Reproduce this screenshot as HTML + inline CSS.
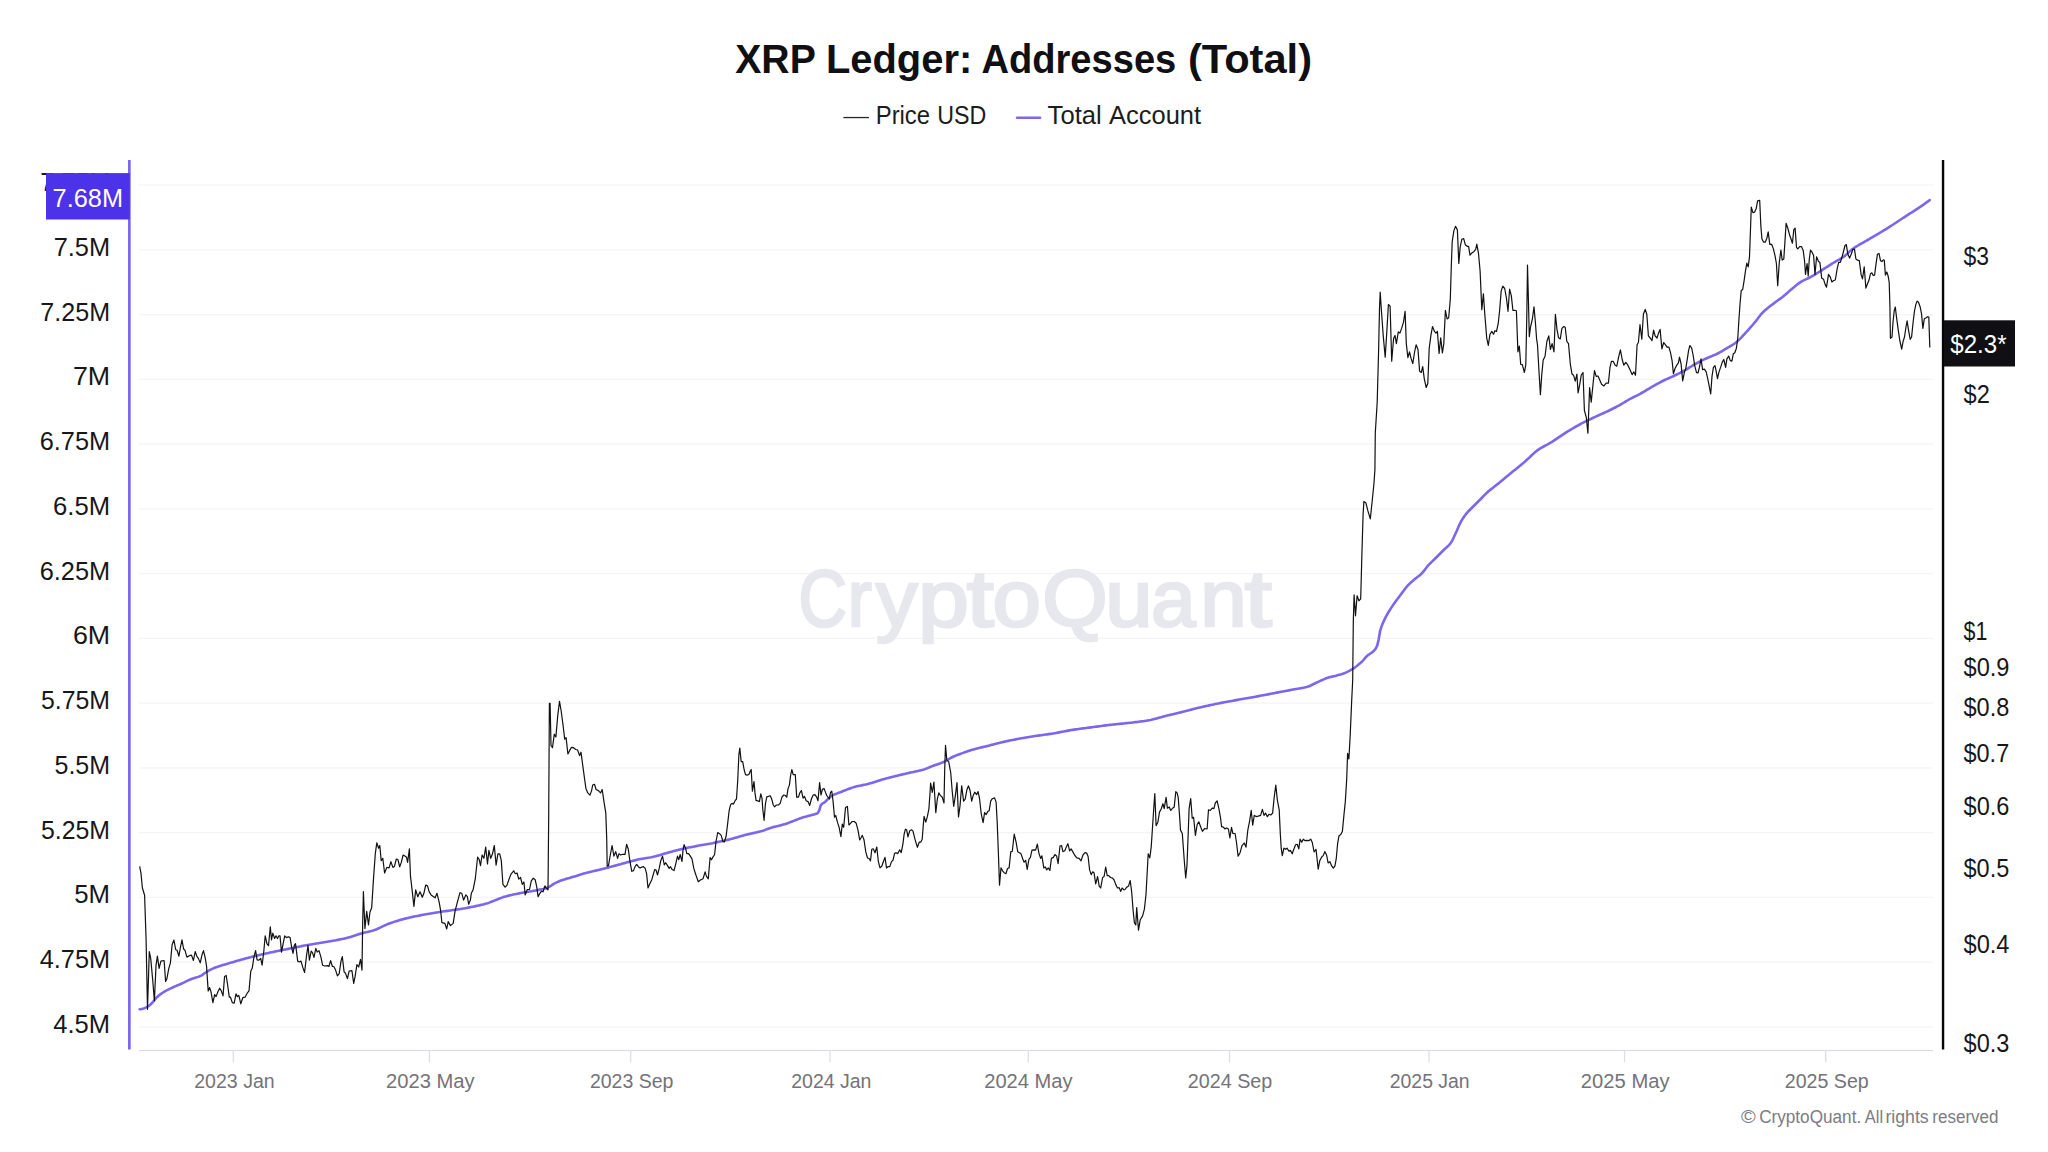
<!DOCTYPE html>
<html lang="en"><head><meta charset="utf-8"><title>XRP Ledger: Addresses (Total)</title>
<style>
html,body{margin:0;padding:0;background:#fff;}
body{width:2048px;height:1152px;overflow:hidden;font-family:"Liberation Sans", "DejaVu Sans", sans-serif;}
svg{display:block;}
text{font-family:"Liberation Sans", "DejaVu Sans", sans-serif;}
</style></head><body>
<svg width="2048" height="1152" viewBox="0 0 2048 1152">
<rect width="2048" height="1152" fill="#ffffff"/>

<g id="title">
<text y="73.1" font-size="41" font-weight="700" fill="#101014"><tspan x="735.26" textLength="79.82" lengthAdjust="spacingAndGlyphs">XRP</tspan> <tspan x="825.93" textLength="146.31" lengthAdjust="spacingAndGlyphs">Ledger:</tspan> <tspan x="981.55" textLength="194.71" lengthAdjust="spacingAndGlyphs">Addresses</tspan> <tspan x="1187.93" textLength="124.15" lengthAdjust="spacingAndGlyphs">(Total)</tspan></text>
</g>
<g id="legend">
<line x1="843.4" y1="117.55" x2="868.9" y2="117.55" stroke="#26262a" stroke-width="1.3"/>
<line x1="1017.1" y1="117.7" x2="1040.1" y2="117.7" stroke="#7b68ee" stroke-width="2.6" stroke-linecap="round"/>
<text y="124.3" font-size="25.6" font-weight="400" fill="#1c1c20"><tspan x="875.74" textLength="54.32" lengthAdjust="spacingAndGlyphs">Price</tspan> <tspan x="937.21" textLength="49.11" lengthAdjust="spacingAndGlyphs">USD</tspan></text>
<text y="124.3" font-size="25.6" font-weight="400" fill="#1c1c20"><tspan x="1047.62" textLength="54.09" lengthAdjust="spacingAndGlyphs">Total</tspan> <tspan x="1109.05" textLength="92.04" lengthAdjust="spacingAndGlyphs">Account</tspan></text>
</g>
<g id="grid">
<line x1="139" y1="1026.8" x2="1933" y2="1026.8" stroke="#f4f4f6" stroke-width="1.2"/>
<line x1="139" y1="962.1" x2="1933" y2="962.1" stroke="#f4f4f6" stroke-width="1.2"/>
<line x1="139" y1="897.3" x2="1933" y2="897.3" stroke="#f4f4f6" stroke-width="1.2"/>
<line x1="139" y1="832.6" x2="1933" y2="832.6" stroke="#f4f4f6" stroke-width="1.2"/>
<line x1="139" y1="767.8" x2="1933" y2="767.8" stroke="#f4f4f6" stroke-width="1.2"/>
<line x1="139" y1="703.1" x2="1933" y2="703.1" stroke="#f4f4f6" stroke-width="1.2"/>
<line x1="139" y1="638.3" x2="1933" y2="638.3" stroke="#f4f4f6" stroke-width="1.2"/>
<line x1="139" y1="573.6" x2="1933" y2="573.6" stroke="#f4f4f6" stroke-width="1.2"/>
<line x1="139" y1="508.8" x2="1933" y2="508.8" stroke="#f4f4f6" stroke-width="1.2"/>
<line x1="139" y1="444.1" x2="1933" y2="444.1" stroke="#f4f4f6" stroke-width="1.2"/>
<line x1="139" y1="379.3" x2="1933" y2="379.3" stroke="#f4f4f6" stroke-width="1.2"/>
<line x1="139" y1="314.6" x2="1933" y2="314.6" stroke="#f4f4f6" stroke-width="1.2"/>
<line x1="139" y1="249.8" x2="1933" y2="249.8" stroke="#f4f4f6" stroke-width="1.2"/>
<line x1="139" y1="185.1" x2="1933" y2="185.1" stroke="#f4f4f6" stroke-width="1.2"/>
</g>
<g id="watermark">
<text y="625.6" font-size="80.5" fill="#e7e7ee" stroke="#e7e7ee" stroke-width="2.6"><tspan x="798.5" textLength="48.35" lengthAdjust="spacingAndGlyphs">C</tspan><tspan x="847.76" textLength="24.04" lengthAdjust="spacingAndGlyphs">r</tspan><tspan x="876.1" textLength="41.51" lengthAdjust="spacingAndGlyphs">y</tspan><tspan x="917.9" textLength="50.89" lengthAdjust="spacingAndGlyphs">p</tspan><tspan x="966.72" textLength="27.09" lengthAdjust="spacingAndGlyphs">t</tspan><tspan x="992.64" textLength="48.47" lengthAdjust="spacingAndGlyphs">o</tspan><tspan x="1042.32" textLength="65.41" lengthAdjust="spacingAndGlyphs">Q</tspan><tspan x="1105.18" textLength="47.26" lengthAdjust="spacingAndGlyphs">u</tspan><tspan x="1150.99" textLength="44.61" lengthAdjust="spacingAndGlyphs">a</tspan><tspan x="1200.15" textLength="46.47" lengthAdjust="spacingAndGlyphs">n</tspan><tspan x="1244.82" textLength="27.09" lengthAdjust="spacingAndGlyphs">t</tspan></text>
</g>
<g id="yleft">
<text x="53.31" y="1032.8" font-size="25.6" font-weight="400" fill="#17171a" textLength="56.78" lengthAdjust="spacingAndGlyphs">4.5M</text>
<text x="39.72" y="968.1" font-size="25.6" font-weight="400" fill="#17171a" textLength="70.36" lengthAdjust="spacingAndGlyphs">4.75M</text>
<text x="74.27" y="903.3" font-size="25.6" font-weight="400" fill="#17171a" textLength="35.85" lengthAdjust="spacingAndGlyphs">5M</text>
<text x="41.01" y="838.6" font-size="25.6" font-weight="400" fill="#17171a" textLength="69.03" lengthAdjust="spacingAndGlyphs">5.25M</text>
<text x="54.5" y="773.8" font-size="25.6" font-weight="400" fill="#17171a" textLength="55.55" lengthAdjust="spacingAndGlyphs">5.5M</text>
<text x="41.01" y="709.1" font-size="25.6" font-weight="400" fill="#17171a" textLength="69.03" lengthAdjust="spacingAndGlyphs">5.75M</text>
<text x="72.94" y="644.3" font-size="25.6" font-weight="400" fill="#17171a" textLength="37.26" lengthAdjust="spacingAndGlyphs">6M</text>
<text x="39.71" y="579.6" font-size="25.6" font-weight="400" fill="#17171a" textLength="70.36" lengthAdjust="spacingAndGlyphs">6.25M</text>
<text x="53.1" y="514.8" font-size="25.6" font-weight="400" fill="#17171a" textLength="57.01" lengthAdjust="spacingAndGlyphs">6.5M</text>
<text x="39.71" y="450.1" font-size="25.6" font-weight="400" fill="#17171a" textLength="70.36" lengthAdjust="spacingAndGlyphs">6.75M</text>
<text x="72.92" y="385.3" font-size="25.6" font-weight="400" fill="#17171a" textLength="37.28" lengthAdjust="spacingAndGlyphs">7M</text>
<text x="40.31" y="320.6" font-size="25.6" font-weight="400" fill="#17171a" textLength="69.75" lengthAdjust="spacingAndGlyphs">7.25M</text>
<text x="53.7" y="255.8" font-size="25.6" font-weight="400" fill="#17171a" textLength="56.38" lengthAdjust="spacingAndGlyphs">7.5M</text>
<text x="40.31" y="191.1" font-size="25.6" font-weight="400" fill="#17171a" textLength="69.75" lengthAdjust="spacingAndGlyphs">7.75M</text>
</g>
<g id="xaxis">
<line x1="139" y1="1050.45" x2="1933" y2="1050.45" stroke="#d9d9e6" stroke-width="1.1"/>
<line x1="233.3" y1="1050" x2="233.3" y2="1062.3" stroke="#dcdce8" stroke-width="1.2"/>
<line x1="429.4" y1="1050" x2="429.4" y2="1062.3" stroke="#dcdce8" stroke-width="1.2"/>
<line x1="630.7" y1="1050" x2="630.7" y2="1062.3" stroke="#dcdce8" stroke-width="1.2"/>
<line x1="830.0" y1="1050" x2="830.0" y2="1062.3" stroke="#dcdce8" stroke-width="1.2"/>
<line x1="1028.3" y1="1050" x2="1028.3" y2="1062.3" stroke="#dcdce8" stroke-width="1.2"/>
<line x1="1229.5" y1="1050" x2="1229.5" y2="1062.3" stroke="#dcdce8" stroke-width="1.2"/>
<line x1="1429.0" y1="1050" x2="1429.0" y2="1062.3" stroke="#dcdce8" stroke-width="1.2"/>
<line x1="1624.5" y1="1050" x2="1624.5" y2="1062.3" stroke="#dcdce8" stroke-width="1.2"/>
<line x1="1825.7" y1="1050" x2="1825.7" y2="1062.3" stroke="#dcdce8" stroke-width="1.2"/>
<text x="194.22" y="1088.0" font-size="19.9" font-weight="400" fill="#737379" textLength="80.45" lengthAdjust="spacingAndGlyphs">2023 Jan</text>
<text x="385.98" y="1088.0" font-size="19.9" font-weight="400" fill="#737379" textLength="88.66" lengthAdjust="spacingAndGlyphs">2023 May</text>
<text x="589.92" y="1088.0" font-size="19.9" font-weight="400" fill="#737379" textLength="83.5" lengthAdjust="spacingAndGlyphs">2023 Sep</text>
<text x="791.22" y="1088.0" font-size="19.9" font-weight="400" fill="#737379" textLength="80.15" lengthAdjust="spacingAndGlyphs">2024 Jan</text>
<text x="984.19" y="1088.0" font-size="19.9" font-weight="400" fill="#737379" textLength="88.35" lengthAdjust="spacingAndGlyphs">2024 May</text>
<text x="1187.81" y="1088.0" font-size="19.9" font-weight="400" fill="#737379" textLength="84.42" lengthAdjust="spacingAndGlyphs">2024 Sep</text>
<text x="1389.72" y="1088.0" font-size="19.9" font-weight="400" fill="#737379" textLength="79.94" lengthAdjust="spacingAndGlyphs">2025 Jan</text>
<text x="1580.88" y="1088.0" font-size="19.9" font-weight="400" fill="#737379" textLength="88.66" lengthAdjust="spacingAndGlyphs">2025 May</text>
<text x="1784.81" y="1088.0" font-size="19.9" font-weight="400" fill="#737379" textLength="83.91" lengthAdjust="spacingAndGlyphs">2025 Sep</text>
</g>
<g id="series">
<path d="M139.7,1009.3 L141.2,1009.13 L142.7,1008.77 L144.2,1008.26 L145.7,1007.66 L147.2,1006.94 L148.7,1005.91 L150.2,1004.66 L151.7,1003.31 L153.2,1001.64 L154.7,999.72 L156.2,997.91 L157.7,996.48 L159.2,995.22 L160.7,994.07 L162.2,993.01 L163.7,992.04 L165.2,991.16 L166.7,990.35 L168.2,989.59 L169.7,988.87 L171.2,988.18 L172.7,987.49 L174.2,986.79 L175.7,986.13 L177.2,985.48 L178.7,984.83 L180.2,984.19 L181.7,983.52 L183.2,982.84 L184.7,982.11 L186.2,981.37 L187.7,980.64 L189.2,979.94 L190.7,979.3 L192.2,978.73 L193.7,978.25 L195.2,977.81 L196.7,977.37 L198.2,976.88 L199.7,976.32 L201.2,975.59 L202.7,974.64 L204.2,973.56 L205.7,972.48 L207.2,971.51 L208.7,970.68 L210.2,969.88 L211.7,969.13 L213.2,968.43 L214.7,967.8 L216.2,967.23 L217.7,966.71 L219.2,966.22 L220.7,965.76 L222.2,965.31 L223.7,964.87 L225.2,964.43 L226.7,963.98 L228.2,963.52 L229.7,963.06 L231.2,962.61 L232.7,962.16 L234.2,961.71 L235.7,961.27 L237.2,960.84 L238.7,960.42 L240.2,959.99 L241.7,959.57 L243.2,959.15 L244.7,958.74 L246.2,958.33 L247.7,957.93 L249.2,957.53 L250.7,957.14 L252.2,956.75 L253.7,956.37 L255.2,956 L256.7,955.64 L258.2,955.28 L259.7,954.93 L261.2,954.58 L262.7,954.24 L264.2,953.9 L265.7,953.56 L267.2,953.23 L268.7,952.9 L270.2,952.58 L271.7,952.25 L273.2,951.93 L274.7,951.61 L276.2,951.3 L277.7,950.98 L279.2,950.68 L280.7,950.37 L282.2,950.07 L283.7,949.77 L285.2,949.47 L286.7,949.16 L288.2,948.86 L289.7,948.56 L291.2,948.26 L292.7,947.95 L294.2,947.64 L295.7,947.33 L297.2,947.02 L298.7,946.72 L300.2,946.41 L301.7,946.11 L303.2,945.81 L304.7,945.51 L306.2,945.23 L307.7,944.95 L309.2,944.67 L310.7,944.41 L312.2,944.16 L313.7,943.91 L315.2,943.66 L316.7,943.42 L318.2,943.18 L319.7,942.94 L321.2,942.7 L322.7,942.46 L324.2,942.21 L325.7,941.96 L327.2,941.7 L328.7,941.44 L330.2,941.19 L331.7,940.93 L333.2,940.68 L334.7,940.43 L336.2,940.16 L337.7,939.89 L339.2,939.62 L340.7,939.33 L342.2,939.02 L343.7,938.7 L345.2,938.36 L346.7,937.98 L348.2,937.57 L349.7,937.14 L351.2,936.68 L352.7,936.2 L354.2,935.72 L355.7,935.23 L357.2,934.75 L358.7,934.27 L360.2,933.81 L361.7,933.38 L363.2,932.97 L364.7,932.59 L366.2,932.24 L367.7,931.9 L369.2,931.56 L370.7,931.19 L372.2,930.79 L373.7,930.34 L375.2,929.8 L376.7,929.19 L378.2,928.52 L379.7,927.81 L381.2,927.08 L382.7,926.35 L384.2,925.63 L385.7,924.96 L387.2,924.34 L388.7,923.77 L390.2,923.21 L391.7,922.66 L393.2,922.13 L394.7,921.63 L396.2,921.14 L397.7,920.67 L399.2,920.22 L400.7,919.8 L402.2,919.39 L403.7,919 L405.2,918.62 L406.7,918.25 L408.2,917.89 L409.7,917.55 L411.2,917.21 L412.7,916.88 L414.2,916.56 L415.7,916.26 L417.2,915.96 L418.7,915.66 L420.2,915.37 L421.7,915.09 L423.2,914.81 L424.7,914.53 L426.2,914.27 L427.7,914 L429.2,913.74 L430.7,913.49 L432.2,913.23 L433.7,912.98 L435.2,912.74 L436.7,912.49 L438.2,912.25 L439.7,912.01 L441.2,911.78 L442.7,911.55 L444.2,911.33 L445.7,911.11 L447.2,910.9 L448.7,910.69 L450.2,910.48 L451.7,910.28 L453.2,910.06 L454.7,909.84 L456.2,909.62 L457.7,909.39 L459.2,909.17 L460.7,908.93 L462.2,908.69 L463.7,908.45 L465.2,908.19 L466.7,907.93 L468.2,907.65 L469.7,907.36 L471.2,907.06 L472.7,906.76 L474.2,906.44 L475.7,906.12 L477.2,905.79 L478.7,905.46 L480.2,905.12 L481.7,904.78 L483.2,904.42 L484.7,904.03 L486.2,903.62 L487.7,903.15 L489.2,902.62 L490.7,902.05 L492.2,901.45 L493.7,900.84 L495.2,900.25 L496.7,899.68 L498.2,899.08 L499.7,898.48 L501.2,897.9 L502.7,897.35 L504.2,896.85 L505.7,896.41 L507.2,896.01 L508.7,895.63 L510.2,895.27 L511.7,894.92 L513.2,894.59 L514.7,894.27 L516.2,893.96 L517.7,893.65 L519.2,893.36 L520.7,893.08 L522.2,892.8 L523.7,892.53 L525.2,892.27 L526.7,892 L528.2,891.73 L529.7,891.46 L531.2,891.2 L532.7,890.95 L534.2,890.69 L535.7,890.43 L537.2,890.16 L538.7,889.86 L540.2,889.56 L541.7,889.26 L543.2,888.94 L544.7,888.58 L546.2,888.16 L547.7,887.66 L549.2,886.93 L550.7,885.96 L552.2,884.91 L553.7,883.94 L555.2,883.14 L556.7,882.39 L558.2,881.69 L559.7,881.05 L561.2,880.46 L562.7,879.94 L564.2,879.46 L565.7,879.01 L567.2,878.58 L568.7,878.16 L570.2,877.74 L571.7,877.31 L573.2,876.86 L574.7,876.39 L576.2,875.92 L577.7,875.45 L579.2,874.98 L580.7,874.51 L582.2,874.06 L583.7,873.62 L585.2,873.19 L586.7,872.79 L588.2,872.4 L589.7,872.03 L591.2,871.67 L592.7,871.32 L594.2,870.97 L595.7,870.63 L597.2,870.28 L598.7,869.93 L600.2,869.57 L601.7,869.2 L603.2,868.82 L604.7,868.43 L606.2,868.04 L607.7,867.64 L609.2,867.24 L610.7,866.84 L612.2,866.43 L613.7,866.03 L615.2,865.63 L616.7,865.22 L618.2,864.82 L619.7,864.4 L621.2,863.99 L622.7,863.58 L624.2,863.16 L625.7,862.75 L627.2,862.35 L628.7,861.94 L630.2,861.55 L631.7,861.16 L633.2,860.77 L634.7,860.38 L636.2,859.99 L637.7,859.61 L639.2,859.26 L640.7,858.94 L642.2,858.66 L643.7,858.43 L645.2,858.22 L646.7,858.02 L648.2,857.8 L649.7,857.55 L651.2,857.26 L652.7,856.93 L654.2,856.58 L655.7,856.19 L657.2,855.8 L658.7,855.4 L660.2,854.98 L661.7,854.53 L663.2,854.07 L664.7,853.6 L666.2,853.15 L667.7,852.72 L669.2,852.3 L670.7,851.9 L672.2,851.5 L673.7,851.11 L675.2,850.73 L676.7,850.35 L678.2,849.97 L679.7,849.59 L681.2,849.21 L682.7,848.85 L684.2,848.51 L685.7,848.19 L687.2,847.88 L688.7,847.59 L690.2,847.31 L691.7,847.03 L693.2,846.74 L694.7,846.44 L696.2,846.14 L697.7,845.84 L699.2,845.54 L700.7,845.25 L702.2,844.98 L703.7,844.73 L705.2,844.5 L706.7,844.28 L708.2,844.05 L709.7,843.8 L711.2,843.52 L712.7,843.19 L714.2,842.82 L715.7,842.47 L717.2,842.14 L718.7,841.84 L720.2,841.54 L721.7,841.24 L723.2,840.93 L724.7,840.6 L726.2,840.25 L727.7,839.88 L729.2,839.49 L730.7,839.1 L732.2,838.7 L733.7,838.29 L735.2,837.87 L736.7,837.43 L738.2,836.99 L739.7,836.54 L741.2,836.09 L742.7,835.66 L744.2,835.24 L745.7,834.85 L747.2,834.48 L748.7,834.13 L750.2,833.8 L751.7,833.47 L753.2,833.13 L754.7,832.79 L756.2,832.43 L757.7,832.06 L759.2,831.68 L760.7,831.29 L762.2,830.88 L763.7,830.42 L765.2,829.89 L766.7,829.32 L768.2,828.74 L769.7,828.19 L771.2,827.69 L772.7,827.26 L774.2,826.87 L775.7,826.51 L777.2,826.15 L778.7,825.79 L780.2,825.4 L781.7,824.99 L783.2,824.58 L784.7,824.15 L786.2,823.69 L787.7,823.2 L789.2,822.64 L790.7,822.05 L792.2,821.44 L793.7,820.85 L795.2,820.28 L796.7,819.7 L798.2,819.13 L799.7,818.57 L801.2,818.03 L802.7,817.53 L804.2,817.07 L805.7,816.65 L807.2,816.25 L808.7,815.85 L810.2,815.44 L811.7,815.01 L813.2,814.66 L814.7,814.32 L816.2,813.84 L817.7,813.05 L819.2,810.52 L820.7,805.31 L822.2,803.67 L823.7,802.92 L825.2,801.78 L826.7,800.2 L828.2,798.73 L829.7,797.41 L831.2,796.21 L832.7,795.28 L834.2,794.55 L835.7,793.92 L837.2,793.36 L838.7,792.82 L840.2,792.27 L841.7,791.68 L843.2,791.08 L844.7,790.48 L846.2,789.89 L847.7,789.31 L849.2,788.75 L850.7,788.19 L852.2,787.64 L853.7,787.13 L855.2,786.69 L856.7,786.32 L858.2,785.99 L859.7,785.69 L861.2,785.41 L862.7,785.12 L864.2,784.83 L865.7,784.51 L867.2,784.15 L868.7,783.76 L870.2,783.33 L871.7,782.88 L873.2,782.41 L874.7,781.93 L876.2,781.45 L877.7,780.96 L879.2,780.48 L880.7,780.02 L882.2,779.57 L883.7,779.15 L885.2,778.74 L886.7,778.35 L888.2,777.96 L889.7,777.59 L891.2,777.22 L892.7,776.84 L894.2,776.47 L895.7,776.1 L897.2,775.73 L898.7,775.35 L900.2,774.98 L901.7,774.62 L903.2,774.25 L904.7,773.9 L906.2,773.55 L907.7,773.21 L909.2,772.87 L910.7,772.55 L912.2,772.23 L913.7,771.91 L915.2,771.59 L916.7,771.25 L918.2,770.91 L919.7,770.57 L921.2,770.21 L922.7,769.83 L924.2,769.38 L925.7,768.85 L927.2,768.26 L928.7,767.63 L930.2,766.99 L931.7,766.36 L933.2,765.76 L934.7,765.21 L936.2,764.69 L937.7,764.18 L939.2,763.67 L940.7,763.13 L942.2,762.57 L943.7,761.95 L945.2,761.26 L946.7,760.43 L948.2,759.51 L949.7,758.58 L951.2,757.71 L952.7,756.97 L954.2,756.3 L955.7,755.67 L957.2,755.07 L958.7,754.5 L960.2,753.95 L961.7,753.4 L963.2,752.86 L964.7,752.33 L966.2,751.81 L967.7,751.3 L969.2,750.8 L970.7,750.32 L972.2,749.85 L973.7,749.4 L975.2,748.97 L976.7,748.57 L978.2,748.18 L979.7,747.82 L981.2,747.46 L982.7,747.11 L984.2,746.76 L985.7,746.4 L987.2,746.02 L988.7,745.64 L990.2,745.25 L991.7,744.86 L993.2,744.46 L994.7,744.07 L996.2,743.68 L997.7,743.29 L999.2,742.92 L1000.7,742.56 L1002.2,742.21 L1003.7,741.87 L1005.2,741.53 L1006.7,741.2 L1008.2,740.88 L1009.7,740.57 L1011.2,740.26 L1012.7,739.95 L1014.2,739.66 L1015.7,739.36 L1017.2,739.08 L1018.7,738.8 L1020.2,738.53 L1021.7,738.27 L1023.2,738.01 L1024.7,737.75 L1026.2,737.5 L1027.7,737.25 L1029.2,737.01 L1030.7,736.77 L1032.2,736.53 L1033.7,736.29 L1035.2,736.06 L1036.7,735.83 L1038.2,735.61 L1039.7,735.4 L1041.2,735.19 L1042.7,734.98 L1044.2,734.77 L1045.7,734.56 L1047.2,734.34 L1048.7,734.12 L1050.2,733.9 L1051.7,733.67 L1053.2,733.43 L1054.7,733.18 L1056.2,732.92 L1057.7,732.64 L1059.2,732.36 L1060.7,732.07 L1062.2,731.77 L1063.7,731.48 L1065.2,731.19 L1066.7,730.9 L1068.2,730.62 L1069.7,730.35 L1071.2,730.09 L1072.7,729.85 L1074.2,729.62 L1075.7,729.4 L1077.2,729.19 L1078.7,728.98 L1080.2,728.78 L1081.7,728.58 L1083.2,728.38 L1084.7,728.19 L1086.2,727.99 L1087.7,727.8 L1089.2,727.6 L1090.7,727.41 L1092.2,727.21 L1093.7,727 L1095.2,726.8 L1096.7,726.6 L1098.2,726.39 L1099.7,726.19 L1101.2,725.99 L1102.7,725.79 L1104.2,725.59 L1105.7,725.4 L1107.2,725.21 L1108.7,725.03 L1110.2,724.85 L1111.7,724.67 L1113.2,724.51 L1114.7,724.35 L1116.2,724.19 L1117.7,724.04 L1119.2,723.89 L1120.7,723.74 L1122.2,723.6 L1123.7,723.45 L1125.2,723.3 L1126.7,723.15 L1128.2,722.99 L1129.7,722.83 L1131.2,722.67 L1132.7,722.5 L1134.2,722.32 L1135.7,722.14 L1137.2,721.95 L1138.7,721.77 L1140.2,721.58 L1141.7,721.38 L1143.2,721.17 L1144.7,720.96 L1146.2,720.72 L1147.7,720.48 L1149.2,720.22 L1150.7,719.93 L1152.2,719.59 L1153.7,719.23 L1155.2,718.84 L1156.7,718.42 L1158.2,718 L1159.7,717.57 L1161.2,717.15 L1162.7,716.73 L1164.2,716.33 L1165.7,715.95 L1167.2,715.58 L1168.7,715.22 L1170.2,714.87 L1171.7,714.52 L1173.2,714.16 L1174.7,713.81 L1176.2,713.46 L1177.7,713.1 L1179.2,712.74 L1180.7,712.37 L1182.2,712 L1183.7,711.61 L1185.2,711.22 L1186.7,710.82 L1188.2,710.42 L1189.7,710.02 L1191.2,709.62 L1192.7,709.23 L1194.2,708.84 L1195.7,708.47 L1197.2,708.1 L1198.7,707.75 L1200.2,707.39 L1201.7,707.05 L1203.2,706.7 L1204.7,706.36 L1206.2,706.02 L1207.7,705.69 L1209.2,705.36 L1210.7,705.04 L1212.2,704.72 L1213.7,704.4 L1215.2,704.09 L1216.7,703.78 L1218.2,703.48 L1219.7,703.18 L1221.2,702.89 L1222.7,702.6 L1224.2,702.32 L1225.7,702.03 L1227.2,701.76 L1228.7,701.48 L1230.2,701.21 L1231.7,700.93 L1233.2,700.66 L1234.7,700.39 L1236.2,700.12 L1237.7,699.85 L1239.2,699.57 L1240.7,699.31 L1242.2,699.04 L1243.7,698.78 L1245.2,698.52 L1246.7,698.25 L1248.2,697.99 L1249.7,697.73 L1251.2,697.47 L1252.7,697.2 L1254.2,696.94 L1255.7,696.67 L1257.2,696.39 L1258.7,696.11 L1260.2,695.83 L1261.7,695.55 L1263.2,695.26 L1264.7,694.97 L1266.2,694.68 L1267.7,694.39 L1269.2,694.1 L1270.7,693.81 L1272.2,693.52 L1273.7,693.23 L1275.2,692.94 L1276.7,692.65 L1278.2,692.36 L1279.7,692.08 L1281.2,691.8 L1282.7,691.52 L1284.2,691.23 L1285.7,690.96 L1287.2,690.68 L1288.7,690.4 L1290.2,690.12 L1291.7,689.83 L1293.2,689.55 L1294.7,689.27 L1296.2,688.98 L1297.7,688.71 L1299.2,688.45 L1300.7,688.2 L1302.2,687.94 L1303.7,687.66 L1305.2,687.35 L1306.7,686.99 L1308.2,686.55 L1309.7,685.97 L1311.2,685.28 L1312.7,684.53 L1314.2,683.76 L1315.7,683.02 L1317.2,682.34 L1318.7,681.65 L1320.2,680.94 L1321.7,680.24 L1323.2,679.56 L1324.7,678.91 L1326.2,678.32 L1327.7,677.8 L1329.2,677.35 L1330.7,676.97 L1332.2,676.62 L1333.7,676.27 L1335.2,675.91 L1336.7,675.51 L1338.2,675.1 L1339.7,674.69 L1341.2,674.25 L1342.7,673.76 L1344.2,673.22 L1345.7,672.61 L1347.2,671.92 L1348.7,671.17 L1350.2,670.35 L1351.7,669.48 L1353.2,668.55 L1354.7,667.55 L1356.2,666.47 L1357.7,665.32 L1359.2,664.09 L1360.7,662.79 L1362.2,661.41 L1363.7,659.75 L1365.2,657.95 L1366.7,656.29 L1368.2,655 L1369.7,653.96 L1371.2,652.98 L1372.7,651.88 L1374.2,650.5 L1375.7,648.61 L1377.2,645.65 L1378.7,639.33 L1380.2,630.57 L1381.7,625.91 L1383.2,622.33 L1384.7,619.1 L1386.2,616.17 L1387.7,613.5 L1389.2,611.01 L1390.7,608.65 L1392.2,606.34 L1393.7,604.13 L1395.2,602.04 L1396.7,600.03 L1398.2,598.05 L1399.7,596.07 L1401.2,594.04 L1402.7,591.98 L1404.2,589.94 L1405.7,587.99 L1407.2,586.18 L1408.7,584.56 L1410.2,583.09 L1411.7,581.72 L1413.2,580.41 L1414.7,579.13 L1416.2,577.95 L1417.7,576.83 L1419.2,575.69 L1420.7,574.43 L1422.2,572.99 L1423.7,571.2 L1425.2,569.2 L1426.7,567.22 L1428.2,565.46 L1429.7,563.87 L1431.2,562.37 L1432.7,560.91 L1434.2,559.47 L1435.7,558 L1437.2,556.5 L1438.7,555 L1440.2,553.5 L1441.7,552 L1443.2,550.5 L1444.7,549.04 L1446.2,547.69 L1447.7,546.34 L1449.2,544.84 L1450.7,543.03 L1452.2,540.59 L1453.7,537.5 L1455.2,534.18 L1456.7,530.93 L1458.2,527.45 L1459.7,524.07 L1461.2,521.19 L1462.7,518.69 L1464.2,516.44 L1465.7,514.43 L1467.2,512.62 L1468.7,510.99 L1470.2,509.47 L1471.7,507.99 L1473.2,506.51 L1474.7,504.98 L1476.2,503.47 L1477.7,501.98 L1479.2,500.49 L1480.7,499 L1482.2,497.5 L1483.7,495.95 L1485.2,494.41 L1486.7,492.93 L1488.2,491.56 L1489.7,490.3 L1491.2,489.11 L1492.7,487.95 L1494.2,486.79 L1495.7,485.6 L1497.2,484.37 L1498.7,483.14 L1500.2,481.9 L1501.7,480.65 L1503.2,479.41 L1504.7,478.18 L1506.2,476.95 L1507.7,475.73 L1509.2,474.51 L1510.7,473.29 L1512.2,472.08 L1513.7,470.86 L1515.2,469.64 L1516.7,468.42 L1518.2,467.19 L1519.7,465.95 L1521.2,464.7 L1522.7,463.44 L1524.2,462.17 L1525.7,460.89 L1527.2,459.55 L1528.7,458.15 L1530.2,456.72 L1531.7,455.28 L1533.2,453.87 L1534.7,452.53 L1536.2,451.28 L1537.7,450.16 L1539.2,449.15 L1540.7,448.21 L1542.2,447.34 L1543.7,446.5 L1545.2,445.69 L1546.7,444.89 L1548.2,444.07 L1549.7,443.23 L1551.2,442.35 L1552.7,441.41 L1554.2,440.43 L1555.7,439.42 L1557.2,438.4 L1558.7,437.37 L1560.2,436.34 L1561.7,435.32 L1563.2,434.31 L1564.7,433.33 L1566.2,432.39 L1567.7,431.46 L1569.2,430.54 L1570.7,429.64 L1572.2,428.74 L1573.7,427.86 L1575.2,427 L1576.7,426.15 L1578.2,425.32 L1579.7,424.5 L1581.2,423.7 L1582.7,422.92 L1584.2,422.16 L1585.7,421.41 L1587.2,420.67 L1588.7,419.93 L1590.2,419.21 L1591.7,418.5 L1593.2,417.78 L1594.7,417.08 L1596.2,416.39 L1597.7,415.72 L1599.2,415.05 L1600.7,414.39 L1602.2,413.73 L1603.7,413.06 L1605.2,412.38 L1606.7,411.68 L1608.2,410.97 L1609.7,410.25 L1611.2,409.51 L1612.7,408.77 L1614.2,408.01 L1615.7,407.24 L1617.2,406.45 L1618.7,405.65 L1620.2,404.8 L1621.7,403.91 L1623.2,403 L1624.7,402.08 L1626.2,401.16 L1627.7,400.26 L1629.2,399.39 L1630.7,398.57 L1632.2,397.79 L1633.7,397.03 L1635.2,396.3 L1636.7,395.56 L1638.2,394.82 L1639.7,394.05 L1641.2,393.25 L1642.7,392.4 L1644.2,391.52 L1645.7,390.61 L1647.2,389.7 L1648.7,388.78 L1650.2,387.88 L1651.7,387 L1653.2,386.15 L1654.7,385.3 L1656.2,384.46 L1657.7,383.63 L1659.2,382.82 L1660.7,382.02 L1662.2,381.25 L1663.7,380.5 L1665.2,379.79 L1666.7,379.11 L1668.2,378.45 L1669.7,377.8 L1671.2,377.14 L1672.7,376.45 L1674.2,375.74 L1675.7,375.02 L1677.2,374.29 L1678.7,373.55 L1680.2,372.8 L1681.7,372.03 L1683.2,371.23 L1684.7,370.41 L1686.2,369.54 L1687.7,368.62 L1689.2,367.69 L1690.7,366.74 L1692.2,365.81 L1693.7,364.91 L1695.2,364.06 L1696.7,363.24 L1698.2,362.44 L1699.7,361.67 L1701.2,360.91 L1702.7,360.16 L1704.2,359.44 L1705.7,358.72 L1707.2,358.02 L1708.7,357.36 L1710.2,356.73 L1711.7,356.12 L1713.2,355.5 L1714.7,354.87 L1716.2,354.21 L1717.7,353.5 L1719.2,352.73 L1720.7,351.9 L1722.2,351.03 L1723.7,350.14 L1725.2,349.23 L1726.7,348.32 L1728.2,347.43 L1729.7,346.57 L1731.2,345.69 L1732.7,344.78 L1734.2,343.8 L1735.7,342.73 L1737.2,341.51 L1738.7,340.14 L1740.2,338.63 L1741.7,337.05 L1743.2,335.43 L1744.7,333.82 L1746.2,332.22 L1747.7,330.59 L1749.2,328.92 L1750.7,327.23 L1752.2,325.5 L1753.7,323.75 L1755.2,321.93 L1756.7,319.99 L1758.2,318 L1759.7,316.04 L1761.2,314.18 L1762.7,312.51 L1764.2,311.04 L1765.7,309.7 L1767.2,308.44 L1768.7,307.24 L1770.2,306.09 L1771.7,304.97 L1773.2,303.84 L1774.7,302.69 L1776.2,301.58 L1777.7,300.5 L1779.2,299.43 L1780.7,298.35 L1782.2,297.24 L1783.7,296.06 L1785.2,294.79 L1786.7,293.45 L1788.2,292.09 L1789.7,290.73 L1791.2,289.4 L1792.7,288.16 L1794.2,286.93 L1795.7,285.71 L1797.2,284.53 L1798.7,283.4 L1800.2,282.36 L1801.7,281.42 L1803.2,280.6 L1804.7,279.87 L1806.2,279.17 L1807.7,278.49 L1809.2,277.77 L1810.7,276.99 L1812.2,276.15 L1813.7,275.27 L1815.2,274.36 L1816.7,273.44 L1818.2,272.5 L1819.7,271.55 L1821.2,270.61 L1822.7,269.67 L1824.2,268.72 L1825.7,267.76 L1827.2,266.79 L1828.7,265.83 L1830.2,264.86 L1831.7,263.91 L1833.2,262.98 L1834.7,262.08 L1836.2,261.23 L1837.7,260.38 L1839.2,259.54 L1840.7,258.66 L1842.2,257.73 L1843.7,256.73 L1845.2,255.6 L1846.7,254.28 L1848.2,252.86 L1849.7,251.43 L1851.2,250.1 L1852.7,248.97 L1854.2,247.92 L1855.7,246.94 L1857.2,246 L1858.7,245.1 L1860.2,244.22 L1861.7,243.37 L1863.2,242.53 L1864.7,241.7 L1866.2,240.86 L1867.7,240 L1869.2,239.12 L1870.7,238.22 L1872.2,237.33 L1873.7,236.45 L1875.2,235.56 L1876.7,234.68 L1878.2,233.79 L1879.7,232.91 L1881.2,232.01 L1882.7,231.11 L1884.2,230.2 L1885.7,229.28 L1887.2,228.35 L1888.7,227.4 L1890.2,226.44 L1891.7,225.47 L1893.2,224.49 L1894.7,223.5 L1896.2,222.51 L1897.7,221.52 L1899.2,220.52 L1900.7,219.53 L1902.2,218.54 L1903.7,217.56 L1905.2,216.59 L1906.7,215.62 L1908.2,214.66 L1909.7,213.7 L1911.2,212.75 L1912.7,211.79 L1914.2,210.83 L1915.7,209.86 L1917.2,208.88 L1918.7,207.89 L1920.2,206.89 L1921.7,205.86 L1923.2,204.82 L1924.7,203.75 L1926.2,202.67 L1927.7,201.58 L1929.2,200.47 L1929.7,200.1" fill="none" stroke="#7a66ef" stroke-width="2.6" stroke-linejoin="round" stroke-linecap="round"/>
<path d="M139.7,866.3 L141,873.5 L142.4,888 L144.6,895.2 L146.1,940.3 L147.5,1009.3 L149.3,951.5 L150.7,958.4 L152.7,980 L154.4,1000.8 L156,965.6 L157.4,956.2 L159.1,968.3 L160.9,961.1 L164.1,960.5 L165.6,981.5 L166.8,979.1 L168.8,968.3 L170.4,962.9 L172.1,944.8 L173.9,940 L175.7,949.7 L177.1,950.3 L178.9,956.2 L180.4,947.5 L182,939.8 L183.6,949 L185,950.3 L186.9,957.1 L190.3,955.3 L191.5,955.1 L193.4,960.5 L195.2,951.5 L197,956.6 L198.4,958.4 L200.2,962.9 L202,954.8 L203.5,950.6 L205.3,958.4 L206.5,965.6 L208.2,990.9 L209.6,987.6 L211,991.8 L212.9,1002.6 L214.7,994.5 L216.1,996.6 L217.9,991.8 L219.7,988.2 L221.3,990.9 L223,995.9 L224.6,976.4 L226.2,975.5 L227.7,985.5 L229.3,997.2 L230.5,997.2 L232.3,1002.6 L234.2,1003.1 L236,993.9 L237.4,996.6 L238.8,995.4 L240.8,1003.9 L242.8,997.7 L245,997.2 L247.2,993.2 L249,990.9 L250.8,971 L252.2,968.3 L254,956.6 L255.6,950.6 L257.1,959.8 L258.9,960.2 L260.7,958.4 L262.1,965.2 L263.8,951.2 L265.2,935.8 L267,943.9 L268.5,945.7 L270.3,926.8 L271.5,940 L272.8,933.1 L274.6,938.5 L276,935.8 L277.5,938.5 L278.9,935.8 L280,935.8 L281.5,952.1 L282.9,944.8 L284.7,935.8 L286.5,937.6 L288.3,936.7 L290.1,937.6 L291.7,947.5 L293,953.3 L294.5,944.8 L295.5,943.6 L297.7,961.1 L299.5,962 L301,961.1 L302.8,967.4 L304.6,972.5 L306.4,956.6 L308,945.4 L309.4,960.2 L311.2,951.2 L312.5,952.6 L314,957.5 L315.8,948.4 L317.2,952.1 L319,950.6 L320.8,956.6 L322.6,965.2 L324.8,966 L327.5,965.6 L328.9,966.5 L330.6,960.7 L332.4,966.5 L333.8,966.5 L335.6,970.1 L337.4,975.9 L339.2,973.7 L341,961.1 L342.3,956.6 L344.1,971.9 L345.5,973.2 L347.4,978.6 L349.2,971 L351.9,970.7 L353.7,983.3 L355.1,976.4 L356.9,964.7 L358.7,967 L360.5,959.3 L362,970.1 L362.7,922.3 L363.4,891.6 L364.9,928.6 L366.7,911.4 L368.5,925 L369.9,912.3 L371.7,907.8 L373.5,878.9 L375.3,853.7 L376.8,842.8 L378.6,848.2 L379.8,845.5 L381.2,860.6 L382.8,858.3 L384.6,873 L386.8,867.4 L389.1,867.8 L390.9,861.7 L392.9,867.4 L394.5,866.2 L396.3,859 L397.9,859.5 L399.7,866.9 L401.3,862.4 L403.1,855 L404.9,856.1 L406.5,857.2 L407.6,862.4 L409.4,848.9 L410.5,876.4 L412.1,889.9 L413.9,906.4 L415.7,889.9 L417.8,896.7 L420,891.8 L422.3,897.2 L423.9,893.3 L425.7,885 L427.5,885.9 L429.3,892.2 L431.1,894.9 L433.6,896.7 L435.1,897.8 L437,893.3 L439.2,902.4 L440.6,910.3 L441.9,922.7 L444.9,923.4 L446.7,929 L448.2,921.6 L450.5,925.6 L453.2,923.4 L455,911.4 L457.3,902.4 L460,892.7 L461.8,893.3 L463.6,900.1 L465.8,894.9 L467.4,896.7 L468.6,904.2 L470.4,900.1 L471.3,893.3 L473.1,889.9 L475.3,878.7 L477.6,857.2 L479.2,859.5 L480.5,865.6 L482.1,855 L483.9,858.3 L485.7,847.1 L487.5,864 L488.9,850.4 L490.7,858.3 L492.5,853.8 L494.3,845.5 L496.1,865.1 L497.9,853.8 L499.7,853.8 L501.3,860.6 L502.9,884.3 L505.1,887.2 L506.9,885.4 L509.2,878.7 L511,874.1 L513.7,870.8 L515.3,873.7 L517.1,873 L518.7,879.1 L520.5,877.5 L522.3,884.3 L523.9,882 L525.2,894.9 L527.3,889.5 L529.5,889.5 L531.3,880.9 L533.3,878.2 L535.2,879.8 L536.7,886.6 L538.1,896.7 L539.9,893.3 L541.5,891.1 L543.1,891.8 L544.9,885.9 L546.4,888.1 L548,889.9 L548.7,815.4 L549.4,703.3 L550.1,703.3 L551,745.5 L552.5,747.7 L554.3,734.2 L555.9,736.9 L557.7,716.1 L559.5,701.4 L561.1,710.5 L562.9,724 L564.7,739.1 L566.1,737.6 L567.9,754 L569.7,750.4 L571.5,747.3 L573.5,747.7 L575.8,749.5 L577.6,750 L579.6,755.6 L581,752.2 L582.8,765.8 L584.8,780.5 L585.9,788.4 L587.8,792.9 L590,795.1 L591.6,790.6 L592.7,785 L594.5,784.3 L596.1,789.5 L598.4,790.6 L600.6,792.9 L602.2,789.5 L604,801.9 L605.8,813.2 L606.7,838 L607.2,866.2 L608.5,865.6 L610.3,855 L612.1,845.5 L613.9,856.1 L615.7,851.6 L617.6,858.3 L618.9,853.8 L620.7,855 L622.7,854.3 L625,854.3 L626.6,844.3 L628.3,849.3 L630.1,862.3 L631.8,871.3 L633.5,870.6 L635.3,866.1 L636.7,864.4 L638.4,866.7 L640,867.9 L641.7,867.2 L643.4,866.7 L645.2,868.4 L646.6,873.6 L648,888 L649.7,884 L651.8,879.7 L653.5,873.6 L654.7,869.6 L656.1,870.1 L657.5,875 L659.2,868.4 L660.8,860.6 L662.5,856.2 L664.3,864.9 L665.7,862.7 L667.4,865.4 L669.1,868.4 L670.5,866.7 L672.2,869.6 L674,870.6 L675.7,864.1 L677.5,856.2 L678.8,859.7 L680.2,854.5 L682,861.5 L683,850.2 L684.1,844.6 L685.6,848.4 L686.8,853.6 L688.6,853.6 L690.3,856.2 L692,858.8 L693.8,868.4 L696,875.3 L698.3,881.8 L700.4,880 L703,878.8 L705.1,871.9 L706.4,876.2 L708.3,878.8 L709.4,865.8 L710.1,857.5 L711.5,859.7 L712.9,857.1 L714.6,854.5 L716,841.5 L717.7,832.5 L719.5,833.7 L721.2,835.4 L722.9,841.5 L724.3,842 L726.1,836.3 L727.8,822.4 L729.2,810.3 L730.6,804.7 L732,803.3 L733.3,804.2 L735.1,800.7 L736.5,799 L737.7,780.7 L738.9,754.7 L739.8,748.1 L741.2,761.7 L742.7,761.7 L744.1,769.5 L745.5,774.7 L747.2,775.2 L749,774.2 L750.2,771.2 L751.2,769.5 L752.4,791.2 L754,781.6 L755,792.9 L756.1,800.7 L757.6,800.7 L759.4,801.6 L760.8,793.8 L762,798.1 L762.8,809.4 L764.1,820.3 L765.5,803.3 L766.8,796.9 L768.4,796.4 L770.1,795.8 L771.5,798.4 L773.3,805 L774.6,806.8 L776.4,805 L778.5,805 L780.2,803.3 L781.9,797.2 L783.7,795 L785.4,795.5 L786.8,797.2 L788,788.6 L789.4,785.1 L790.6,775.5 L791.8,769.5 L793.2,774.7 L795.3,774.7 L796.7,797.2 L798.4,797.2 L799.8,792.9 L801.4,790.6 L803.1,798.1 L804.5,796.4 L806.2,800.7 L808,801.6 L809.7,805.4 L811.4,799 L813.2,795 L814.9,794.6 L816.7,797.2 L818,800.7 L819.6,782.5 L821,795 L822.4,789.4 L824.1,788.6 L825.7,792.9 L827.1,796 L829.3,799 L830.5,792.5 L831.8,791.2 L833.1,801.6 L834.5,817.2 L835.7,815.5 L837.5,822.4 L839.2,827.6 L840.9,836.6 L842.3,824.1 L843.7,827.3 L845.5,807.6 L847.4,806.4 L848.9,825 L850.5,823.3 L852.2,821.5 L854.3,821.5 L856.2,823.3 L858,830.2 L859.7,839.8 L860.9,838 L862.3,835.4 L864,839.8 L865.8,851.9 L867.5,858 L869.1,858.5 L870.5,860.9 L871.8,849.3 L873.2,848.8 L875,852.8 L876.8,847 L878.3,861.3 L880,867.9 L881.9,866 L883.5,861.3 L885,857.4 L886.5,867.9 L888.2,866.6 L889.8,866.6 L891.5,861.6 L893,860.3 L894.5,853.6 L895.9,852.7 L897.8,853.6 L899.7,849.8 L901.2,852.7 L902.9,844.1 L904.1,834.5 L905.4,829.2 L906.7,829.8 L907.9,836.8 L909.8,830.7 L911.5,829.8 L913,831.1 L915,839.3 L917.4,847.3 L919.2,842.2 L920.7,842.2 L922.2,839.3 L923.2,826 L924.1,816.4 L925.8,822.1 L927.4,816.4 L928.9,808.8 L930,793.5 L930.6,783 L932.3,792.5 L933.9,782 L935.8,812.6 L937.3,799.2 L938.8,792.9 L940.3,795.4 L942.3,797.3 L944,803 L944.7,769.6 L945.5,745.4 L946.8,760.1 L948.7,761.6 L950.7,772.5 L952.2,791 L953.7,806.3 L955.4,795.4 L957,782.6 L958.5,817 L960,805.9 L961.7,785.9 L963.6,801.1 L965.2,799.2 L966.9,789.7 L968.4,785.9 L969.9,789.7 L971.7,801.1 L973.2,795.4 L974.7,792.2 L976.6,794.5 L978.1,791.6 L979.5,798.3 L981.2,813.5 L983.1,822.7 L984.6,812.6 L986.2,814.5 L987.7,811.6 L989.2,810.7 L990.7,801.1 L992.3,798.7 L994.6,797.9 L996.1,802.1 L997.2,822.1 L998.4,853.6 L999.5,885.1 L1001,867.9 L1002.6,870.8 L1004.1,872.7 L1006,873.7 L1007.5,868.5 L1009.1,867.9 L1010.8,851.7 L1012.3,851.3 L1014.2,834.2 L1016.1,842.2 L1017.7,851.7 L1019.4,852.7 L1020.9,853.6 L1022.8,859 L1024.1,862.2 L1025.7,860.3 L1027.2,869.5 L1028.9,859.4 L1030.4,857.4 L1032,850.2 L1033.9,849.8 L1035.6,850.2 L1037.3,844.1 L1039,853.6 L1040.6,858.4 L1041.9,855.9 L1043.8,867.9 L1045.3,867 L1046.7,869.9 L1048.2,867.9 L1049.9,870.4 L1051.4,858.4 L1053.4,857.4 L1054.9,854.6 L1056.6,855.9 L1058.1,863.6 L1060,846 L1061.6,845.6 L1062.9,851.7 L1064.8,850.8 L1066.3,847 L1067.9,843.7 L1069.6,850.8 L1071.1,848.9 L1073,852.1 L1074.9,855.5 L1076.8,857.8 L1079.1,858.4 L1081,860.9 L1082.9,855.2 L1084.9,852.7 L1086.8,853.2 L1088.1,856.5 L1089.6,869.9 L1091.2,874.6 L1092.7,871.8 L1094,872.7 L1095.7,883.8 L1097.6,876.5 L1099.2,886.1 L1100.7,888 L1102.6,877.5 L1104.1,876.5 L1105.7,867 L1107.2,875.6 L1108.7,875.6 L1110.6,877.5 L1112.5,878.1 L1114.1,880 L1116,885.1 L1117.5,888 L1119.2,887.6 L1120.6,891.4 L1122.1,888 L1124,889.9 L1125,889.5 L1126.8,887.2 L1128.6,885.9 L1130.2,880.5 L1131.7,892.2 L1133.1,910.3 L1134.4,922.7 L1135.8,924.9 L1136.7,907.6 L1138.5,930.1 L1140.3,919.7 L1142.6,915.9 L1144.4,909.1 L1146,894.5 L1147.1,874.1 L1148.2,853.8 L1149.8,857.9 L1151.2,847.1 L1152.7,824.5 L1153.9,806.4 L1154.8,793.6 L1156.1,825.6 L1157.9,822.2 L1159.5,812.1 L1161.3,808.7 L1162.9,803.7 L1164.2,808.7 L1166.1,797.4 L1167.4,808.2 L1169.2,806.9 L1170.8,810.5 L1172.6,808.2 L1174.2,807.1 L1175.8,791.7 L1177.1,792.9 L1178.2,797.4 L1179.4,813.2 L1180.5,830.1 L1182.3,833.5 L1184.1,858.3 L1185.7,878 L1187,865.1 L1188.2,833.5 L1189.1,808.7 L1190.7,798.5 L1192.2,818.2 L1193.6,817.3 L1195.4,835.3 L1197.2,824.5 L1198.8,821.8 L1200.6,826.7 L1202.4,831.3 L1204.7,828.5 L1207.1,829 L1208.5,809.8 L1210.3,810.5 L1212.1,808.2 L1213.9,808.7 L1215.3,803 L1217.1,800.8 L1218.9,808.7 L1220.5,817.7 L1221.6,826.7 L1223.4,827.2 L1225,829 L1226.6,827.9 L1228.4,829 L1229.9,838 L1231.5,827.4 L1232.9,833.5 L1235.1,833.5 L1236.5,842.5 L1238.1,856.1 L1240.1,852.7 L1241.9,845.9 L1244.2,843 L1246,847.1 L1247.8,830.1 L1249.6,821.1 L1251.2,810.3 L1252.7,825.2 L1254.3,815.4 L1256.1,816.6 L1258.2,816.1 L1260.6,815.4 L1262.4,809.4 L1264,815.4 L1265.6,813.2 L1267.4,816.6 L1269,814.3 L1270.8,815 L1272.6,813.2 L1274.2,797.4 L1275.8,785 L1277.3,799.6 L1279.2,809.8 L1280.3,833.5 L1281.2,848.2 L1282.3,855.6 L1283.9,848.2 L1285.5,849.3 L1287.1,848.2 L1288.9,851.1 L1290.4,850.4 L1292.2,853.8 L1293.8,849.3 L1295.6,844.8 L1297.2,844.3 L1298.8,848.9 L1300.1,839.2 L1301.7,842.1 L1303.3,839.2 L1305.1,840.7 L1306.9,840.3 L1308.7,840.7 L1310.8,839.2 L1312.3,842.5 L1314.1,852 L1316,849.3 L1316.9,857.2 L1318.2,869.2 L1319.8,860.6 L1321.6,857.2 L1323.2,855.6 L1324.8,851.6 L1326.6,855 L1328.1,862.9 L1329.9,861.7 L1331.8,866.2 L1333.3,868 L1334.9,866.2 L1336.3,858.3 L1337.6,843.7 L1339,835.8 L1340.8,834.6 L1342.4,831.3 L1343.9,815.4 L1345.3,801.9 L1346.7,779.3 L1347.6,753.4 L1348.9,759 L1350.3,733.1 L1351.6,702.6 L1352.7,680 L1353.3,621.8 L1354.1,594.8 L1355.5,615.8 L1357.1,595.8 L1358.9,600.8 L1360.7,598.8 L1361.9,553.9 L1363.1,513.9 L1363.9,501.6 L1365.9,502.9 L1367.9,510.9 L1370.3,518.9 L1372.3,500 L1373.9,484 L1374.9,470 L1375.3,432.7 L1377.2,402.2 L1378.6,350.7 L1379.5,308.5 L1380.2,292.1 L1381.6,313.2 L1383.3,336.6 L1385.2,357.2 L1386.8,331.9 L1388.4,304.5 L1390.1,306.1 L1391.7,361.2 L1393.6,338.5 L1395,335.4 L1396.4,343.6 L1398.3,331.9 L1399.9,333.1 L1401.6,328.4 L1403.5,322.1 L1405.1,311.3 L1406.3,343.6 L1407.9,357.7 L1409.5,351.8 L1411.2,358.9 L1412.8,363.6 L1414.5,352.5 L1416.1,344.8 L1418,349.5 L1419.6,371.3 L1421.3,372.5 L1422.7,366.6 L1424.3,378.8 L1426.2,387.5 L1427.8,383.5 L1429.2,348.3 L1430.9,335.4 L1432.5,326.5 L1434.4,331.4 L1436,333.1 L1437.4,331.4 L1439.1,353.5 L1440.7,337.8 L1442.4,353 L1443.8,343.6 L1445.4,310.3 L1447.1,319 L1448.7,317.8 L1450.3,299.1 L1451.3,266.3 L1452.2,241.6 L1453.9,230.6 L1455.5,226.4 L1457.4,229.9 L1458.8,263.5 L1460.2,247 L1461.8,239.3 L1463.7,238.6 L1465.3,244.7 L1467.2,246.3 L1468.6,246.3 L1470,255.2 L1471.9,252.9 L1473.8,251.7 L1475.7,249.4 L1476.8,244 L1478.5,253.4 L1480.1,271 L1481.8,309.6 L1483.4,293.9 L1484.8,314.3 L1486.7,337.8 L1488.3,345.3 L1490,334.2 L1491.8,331.4 L1493.5,334.2 L1494.9,330.7 L1496.5,331.4 L1498.2,323.7 L1499.6,310.8 L1501.2,290.9 L1502.8,286.2 L1504.7,288.5 L1506.4,297.9 L1508,311.3 L1509.6,289.2 L1511.3,295.6 L1512.9,310.3 L1514.8,310.3 L1516.4,310.8 L1517.9,351.8 L1519.3,346 L1520.7,364.3 L1522.3,364.7 L1524.4,372.5 L1525.8,364.7 L1526.8,315.5 L1527.5,265.1 L1528.4,299.1 L1529.3,336.6 L1530.5,327.2 L1532.4,319 L1534,306.8 L1535.4,322.5 L1536.6,338.9 L1537.5,344.8 L1539,371.8 L1540.4,394.7 L1541.8,374.1 L1543.2,360 L1545,356.5 L1546.9,341.3 L1548.8,335.9 L1550.4,349.5 L1552.1,343.6 L1554,351.8 L1555.4,314.3 L1557,329.6 L1558.6,337.8 L1560.3,338.9 L1561.9,328.4 L1563.8,326.5 L1565.2,327.2 L1566.8,341.3 L1568.5,343.6 L1570.4,364.7 L1572,374.1 L1573.6,375.3 L1575.3,381.1 L1576.9,374.1 L1578.1,392.9 L1579.7,384.7 L1581.2,375.3 L1583,372.5 L1584.4,410.4 L1586.3,417.5 L1587.9,433.2 L1589.6,387.7 L1591.2,402.2 L1593.1,383.5 L1594.5,370.6 L1596.2,376.4 L1598,376 L1601.6,384.3 L1603.9,385.9 L1606.2,383.2 L1608.4,383.2 L1610,367.4 L1611.4,361.3 L1613.2,361.3 L1615,365.1 L1616.8,366.2 L1618.6,357.2 L1620.4,349.8 L1622.2,359.5 L1623.8,365.1 L1625.8,362.4 L1627.6,364.7 L1629.9,369.6 L1632.1,374.6 L1633.9,371.9 L1635.5,375.3 L1637.1,344.8 L1638.4,342.5 L1640,324.5 L1641.8,339.2 L1643.4,314.3 L1645.2,309.4 L1646.8,314.3 L1648.4,335.8 L1650.2,338 L1652,340.7 L1653.6,330.1 L1655.1,335.8 L1657,338 L1658.8,332.4 L1660.1,329.4 L1661.9,348.9 L1663.7,342.5 L1665.5,344.8 L1667.1,347.1 L1668.9,347.1 L1670.5,352.7 L1672.1,360.6 L1673.4,373.7 L1675,368.5 L1676.8,365.1 L1678.4,362.9 L1679.5,357.2 L1681.1,364 L1682.7,380.9 L1684.5,371.9 L1685.8,368.5 L1687.4,358.3 L1688.6,350.4 L1689.9,345.5 L1691.7,348.2 L1693.1,355 L1694.7,365.6 L1696.5,372.6 L1698,373 L1699.4,367.4 L1701,358.8 L1702.6,369.6 L1704.4,369.2 L1706.2,371.9 L1707.7,378.7 L1709.3,386.6 L1710.7,394 L1712,376.4 L1713.4,367.4 L1715,365.6 L1716.3,371.9 L1717.5,378.7 L1719,371.9 L1720.6,367.4 L1722.2,362.4 L1723.8,359.5 L1725.6,367.4 L1726.9,358.8 L1728.7,356.1 L1730.3,360.6 L1731.9,361.1 L1733.3,353.8 L1734.8,352.7 L1736.4,348.2 L1737.8,338 L1738.9,320 L1740,304.2 L1741.2,290.6 L1742.7,289.5 L1744.3,279.3 L1745.4,271.4 L1746.8,263.1 L1748.2,266.9 L1749.5,256.8 L1750.4,231.9 L1751.3,207.1 L1752.9,212.7 L1754.7,212.1 L1756.3,208.2 L1757.6,200.8 L1759.7,200.3 L1760.8,225.1 L1761.9,238.7 L1763.5,242.1 L1765.3,242.1 L1766.9,238.2 L1768.2,231.9 L1769.8,244.3 L1771.6,244.3 L1773.4,248.9 L1775,255.6 L1776.4,263.5 L1777.7,285.7 L1779.3,262.4 L1780.9,250 L1782.2,260.1 L1783.8,259 L1785.2,237.6 L1786.1,223.3 L1787.9,228.5 L1789.7,235.3 L1791.3,239.8 L1792.4,243.2 L1793.8,229.7 L1795.1,228.1 L1796.5,247.3 L1797.8,248.9 L1799.6,246.6 L1801.4,246.6 L1803.2,250.4 L1804.6,261.3 L1805.5,274.4 L1807.1,263.5 L1808.2,275.9 L1809.3,259 L1810.5,250 L1812.3,252.7 L1813.6,255.6 L1815,274.4 L1816.6,256.8 L1818.4,261.3 L1819.9,262.4 L1821.7,278.2 L1823.6,279.3 L1825.1,284.3 L1826.5,287.2 L1828.5,274.4 L1830.3,277.1 L1831.9,282 L1833.7,280.5 L1835.3,280 L1837.1,269.2 L1838.7,262.4 L1840.3,262.4 L1842.1,256.8 L1843.9,250 L1845,245.5 L1846.3,244.6 L1847.9,254.3 L1849.6,258.1 L1851.4,253.8 L1852.9,249.1 L1854.5,249.4 L1855.9,259 L1857.6,260.2 L1859.3,260.7 L1861.1,274.6 L1862.5,278.9 L1864.2,266.8 L1865.9,288.1 L1867.7,283.3 L1869.1,279.8 L1870.5,273.7 L1871.8,272.8 L1873.2,275.4 L1874.6,275.1 L1876,264.2 L1877.4,254.3 L1879,253.4 L1880.5,260.7 L1881.9,261.6 L1883.3,259.8 L1884.3,260.2 L1885.4,275.1 L1886.8,272 L1888.2,276.3 L1889.2,282.4 L1889.9,304.9 L1890.4,338.3 L1892,337 L1893,322.3 L1894.2,311 L1895.3,307 L1896.5,317.1 L1898,328.4 L1899.8,340.5 L1901.7,349.2 L1903.1,341.4 L1904.5,337 L1905.9,327.5 L1907.1,320.9 L1908.5,330.1 L1910.2,339.3 L1911.6,337 L1913.1,322.3 L1914.5,311 L1915.9,304.1 L1917.1,301.1 L1918.5,302.3 L1920.1,306.7 L1921.5,313.6 L1922.9,328.4 L1924.3,318.8 L1925.8,318 L1927.5,316.7 L1928.8,317.1 L1929.8,347.5" fill="none" stroke="#111113" stroke-width="1.2" stroke-linejoin="round"/>
</g>
<g id="axes">
<line x1="129.35" y1="160" x2="129.35" y2="1049.5" stroke="#7a67ef" stroke-width="2.7"/>
<line x1="1943.05" y1="160" x2="1943.05" y2="1049.5" stroke="#050506" stroke-width="2.4"/>
<rect x="46" y="173.1" width="83.8" height="46.4" fill="#4c32e8"/>
<text x="52.6" y="206.5" font-size="26.2" font-weight="400" fill="#ffffff" textLength="70.48" lengthAdjust="spacingAndGlyphs">7.68M</text>
</g>
<g id="yright">
<text x="1963.55" y="264.7" font-size="25.6" font-weight="400" fill="#17171a" textLength="25.56" lengthAdjust="spacingAndGlyphs">$3</text>
<text x="1963.55" y="403.2" font-size="25.6" font-weight="400" fill="#17171a" textLength="26.24" lengthAdjust="spacingAndGlyphs">$2</text>
<text x="1963.57" y="640.1" font-size="25.6" font-weight="400" fill="#17171a" textLength="23.77" lengthAdjust="spacingAndGlyphs">$1</text>
<text x="1963.55" y="676.1" font-size="25.6" font-weight="400" fill="#17171a" textLength="45.87" lengthAdjust="spacingAndGlyphs">$0.9</text>
<text x="1963.55" y="716.3" font-size="25.6" font-weight="400" fill="#17171a" textLength="45.77" lengthAdjust="spacingAndGlyphs">$0.8</text>
<text x="1963.55" y="762.0" font-size="25.6" font-weight="400" fill="#17171a" textLength="45.63" lengthAdjust="spacingAndGlyphs">$0.7</text>
<text x="1963.55" y="814.6" font-size="25.6" font-weight="400" fill="#17171a" textLength="45.79" lengthAdjust="spacingAndGlyphs">$0.6</text>
<text x="1963.55" y="876.9" font-size="25.6" font-weight="400" fill="#17171a" textLength="45.74" lengthAdjust="spacingAndGlyphs">$0.5</text>
<text x="1963.55" y="953.2" font-size="25.6" font-weight="400" fill="#17171a" textLength="45.95" lengthAdjust="spacingAndGlyphs">$0.4</text>
<text x="1963.55" y="1051.5" font-size="25.6" font-weight="400" fill="#17171a" textLength="45.79" lengthAdjust="spacingAndGlyphs">$0.3</text>
<rect x="1944" y="320.3" width="71" height="46.2" fill="#101014"/>
<text x="1950.34" y="353.4" font-size="25.6" font-weight="400" fill="#ffffff" textLength="56.23" lengthAdjust="spacingAndGlyphs">$2.3*</text>
</g>
<g id="copyright">
<text y="1123.1" font-size="18.8" font-weight="400" fill="#7c7c84"><tspan x="1741.0" textLength="14.71" lengthAdjust="spacingAndGlyphs">©</tspan> <tspan x="1759.13" textLength="102.04" lengthAdjust="spacingAndGlyphs">CryptoQuant.</tspan> <tspan x="1864.87" textLength="18.23" lengthAdjust="spacingAndGlyphs">All</tspan> <tspan x="1885.42" textLength="43.32" lengthAdjust="spacingAndGlyphs">rights</tspan> <tspan x="1932.27" textLength="66.23" lengthAdjust="spacingAndGlyphs">reserved</tspan></text>
</g>
</svg></body></html>
